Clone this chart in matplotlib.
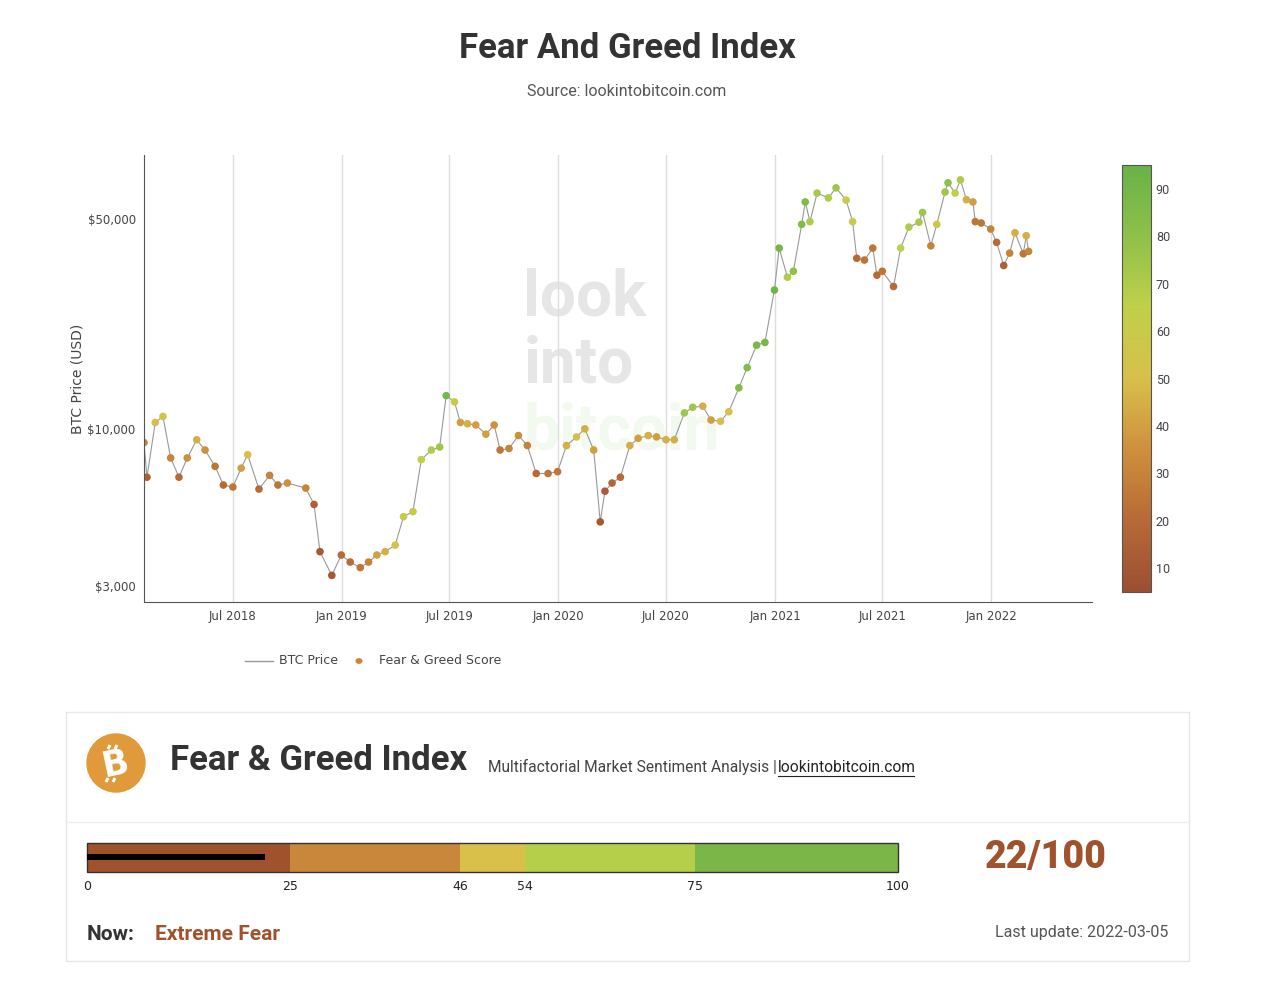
import numpy as np
import pandas as pd
import matplotlib
matplotlib.use("Agg")
import matplotlib.pyplot as plt
from matplotlib.colors import LinearSegmentedColormap
from matplotlib.patches import Circle, Rectangle

matplotlib.rcParams['font.family'] = 'Roboto'

dates = [
    "2018-02-01", "2018-02-06", "2018-02-20", "2018-03-05", "2018-03-18", "2018-04-01", "2018-04-15",
    "2018-05-01", "2018-05-15", "2018-06-01", "2018-06-15", "2018-07-01", "2018-07-15", "2018-07-26",
    "2018-08-14", "2018-09-01", "2018-09-15", "2018-10-01", "2018-11-01", "2018-11-15", "2018-11-25",
    "2018-12-15", "2018-12-31",
    "2019-01-15", "2019-02-01", "2019-02-15", "2019-03-01", "2019-03-15", "2019-04-01", "2019-04-15",
    "2019-05-01", "2019-05-15", "2019-06-01", "2019-06-15", "2019-06-26", "2019-07-10", "2019-07-20",
    "2019-08-01", "2019-08-15", "2019-09-01", "2019-09-15", "2019-09-25", "2019-10-10", "2019-10-26",
    "2019-11-10", "2019-11-25", "2019-12-15", "2019-12-31",
    "2020-01-15", "2020-02-01", "2020-02-15", "2020-03-01", "2020-03-12", "2020-03-20", "2020-04-01",
    "2020-04-15", "2020-05-01", "2020-05-15", "2020-06-01", "2020-06-15", "2020-07-01", "2020-07-15",
    "2020-08-01", "2020-08-15", "2020-09-01", "2020-09-15", "2020-10-01", "2020-10-15", "2020-11-01",
    "2020-11-15", "2020-12-01", "2020-12-15", "2020-12-31",
    "2021-01-08", "2021-01-22", "2021-02-01", "2021-02-15", "2021-02-21", "2021-03-01", "2021-03-13",
    "2021-04-01", "2021-04-14", "2021-05-01", "2021-05-12", "2021-05-19", "2021-06-01", "2021-06-15",
    "2021-06-22", "2021-07-01", "2021-07-20", "2021-08-01", "2021-08-15", "2021-09-01", "2021-09-07",
    "2021-09-21", "2021-10-01", "2021-10-15", "2021-10-20", "2021-11-01", "2021-11-10", "2021-11-20",
    "2021-12-01", "2021-12-05", "2021-12-15", "2021-12-31",
    "2022-01-10", "2022-01-22", "2022-02-01", "2022-02-10", "2022-02-24", "2022-03-01", "2022-03-05",
]
btc_price = [
    9000, 6900, 10500, 11000, 8000, 6900, 8000,
    9200, 8500, 7500, 6500, 6400, 7400, 8200,
    6300, 7000, 6500, 6600, 6350, 5600, 3900,
    3250, 3800,
    3600, 3450, 3600, 3800, 3900, 4100, 5100,
    5300, 7900, 8500, 8700, 12900, 12300, 10500,
    10400, 10300, 9600, 10300, 8500, 8600, 9500,
    8800, 7100, 7100, 7200,
    8800, 9400, 10000, 8500, 4900, 6200, 6600,
    6900, 8800, 9300, 9500, 9400, 9200, 9200,
    11300, 11800, 11900, 10700, 10600, 11400, 13700,
    16000, 19000, 19400, 29000,
    40000, 32000, 33500, 48000, 57000, 49000, 61000,
    58800, 63500, 57800, 49000, 37000, 36500, 40000,
    32500, 33500, 29800, 40000, 47000, 48800, 52600,
    40700, 48000, 61500, 66000, 61000, 67500, 58000,
    57000, 49000, 48500, 46300,
    41800, 35000, 38500, 45000, 38300, 44000, 39000,
]
fg_score = [
    30, 15, 50, 55, 30, 20, 35,
    45, 35, 25, 20, 25, 40, 50,
    20, 30, 25, 35, 30, 15, 10,
    10, 20,
    20, 25, 30, 40, 45, 55, 60,
    60, 65, 70, 75, 90, 60, 40,
    45, 40, 40, 35, 25, 30, 35,
    30, 20, 25, 25,
    45, 50, 45, 40, 10, 12, 18,
    20, 45, 40, 45, 40, 45, 45,
    75, 75, 45, 40, 50, 50, 85,
    85, 88, 90, 92,
    90, 70, 80, 85, 85, 70, 72,
    70, 75, 60, 60, 20, 25, 25,
    20, 25, 20, 65, 70, 72, 75,
    30, 55, 75, 80, 65, 70, 45,
    40, 25, 25, 30,
    20, 15, 30, 45, 25, 45, 30,
]

x_ticks = ["2018-07-01", "2019-01-01", "2019-07-01", "2020-01-01", "2020-07-01",
           "2021-01-01", "2021-07-01", "2022-01-01"]
x_tick_labels = ["Jul 2018", "Jan 2019", "Jul 2019", "Jan 2020", "Jul 2020",
                 "Jan 2021", "Jul 2021", "Jan 2022"]
y_ticks = [3000, 10000, 50000]
y_tick_labels = ["$3,000", "$10,000", "$50,000"]

gauge_edges = [0, 25, 46, 54, 75, 100]
gauge_colors = ["#a0522d", "#c9873b", "#d9c04a", "#b5cf4a", "#7ab648"]
current_score = 22
current_label = "Extreme Fear"
last_update = "2022-03-05"

cmap = LinearSegmentedColormap.from_list("fg", [
    (0.0, "#9b4f32"), (0.17, "#b86a36"), (0.33, "#cd8f3d"), (0.5, "#d8bf4b"),
    (0.67, "#bfd04a"), (0.83, "#8fc14a"), (1.0, "#68b247")])

W, H = 1280, 1008
fig = plt.figure(figsize=(12.8, 10.08), dpi=100)
fig.patch.set_facecolor("white")

def fx(px):
    return px / W

def fy(py):
    return 1 - py / H

fig.text(fx(627), fy(48), "Fear And Greed Index", ha="center", va="center",
         fontsize=25, fontweight="bold", color="#333333")
fig.text(fx(627), fy(92), "Source: lookintobitcoin.com", ha="center", va="center",
         fontsize=11.5, color="#555555")

ax = fig.add_axes([fx(144), fy(602), fx(1092) - fx(144), (602 - 155) / H])
d = pd.to_datetime(dates)
ax.plot(d, btc_price, color="#999999", lw=0.8, zorder=1)
sc = ax.scatter(d, btc_price, c=fg_score, cmap=cmap, vmin=5, vmax=95, s=30,
                edgecolors="none", zorder=2)
ax.set_yscale("log")
ax.set_ylim(2650, 81700)
ax.set_xlim(pd.Timestamp("2018-02-01"), pd.Timestamp("2022-06-20"))
ax.set_yticks(y_ticks)
ax.set_yticklabels(y_tick_labels)
ax.yaxis.set_minor_locator(matplotlib.ticker.NullLocator())
ax.set_xticks(pd.to_datetime(x_ticks))
ax.set_xticklabels(x_tick_labels)
ax.tick_params(length=0, colors="#444444", pad=6)
for lab in ax.get_xticklabels() + ax.get_yticklabels():
    lab.set_fontfamily("DejaVu Sans")
    lab.set_fontsize(8.5)
ax.grid(axis="x", color="#dddddd", lw=1)
ax.set_axisbelow(True)
for s in ["top", "right"]:
    ax.spines[s].set_visible(False)
for s in ["left", "bottom"]:
    ax.spines[s].set_color("#555555")
ax.set_ylabel("BTC Price (USD)", fontsize=10, color="#444444", fontfamily="DejaVu Sans",
              labelpad=2)

# watermark
ax.text(0.40, 0.68, "look", transform=ax.transAxes, fontsize=46, fontweight="bold",
        color="#e6e6e6", zorder=0, va="center")
ax.text(0.40, 0.53, "into", transform=ax.transAxes, fontsize=46, fontweight="bold",
        color="#e6e6e6", zorder=0, va="center")
ax.text(0.40, 0.38, "bitcoin", transform=ax.transAxes, fontsize=46, fontweight="bold",
        color="#f2f9ee", zorder=0, va="center")

cax = fig.add_axes([fx(1122), fy(592), fx(1151) - fx(1122), (592 - 165) / H])
cb = fig.colorbar(sc, cax=cax, ticks=[10, 20, 30, 40, 50, 60, 70, 80, 90])
cb.outline.set_edgecolor("#555555")
cax.tick_params(length=0, labelsize=9, colors="#444444")

# legend
fig.add_artist(plt.Line2D([fx(245), fx(273)], [fy(661), fy(661)], color="#999999", lw=1))
fig.text(fx(279), fy(661), "BTC Price", va="center", fontsize=9, color="#444444",
         fontfamily="DejaVu Sans")
fig.add_artist(Circle((fx(359), fy(661)), 0.0022, transform=fig.transFigure,
                      color="#c9873b"))
fig.text(fx(379), fy(661), "Fear & Greed Score", va="center", fontsize=9, color="#444444",
         fontfamily="DejaVu Sans")

# bottom panel, pixel coordinates
pa = fig.add_axes([0, 0, 1, 1], facecolor="none")
pa.set_xlim(0, W)
pa.set_ylim(H, 0)
pa.axis("off")
pa.add_patch(Rectangle((66, 712), 1123, 249, fill=False, ec="#e8e8e8", lw=1))
pa.plot([66, 1189], [822, 822], color="#eeeeee", lw=1)
pa.add_patch(Circle((116, 763), 29, color="#e09a3a"))
pa.text(116, 764, "B", ha="center", va="center", fontsize=25, fontweight="bold",
        color="white", fontfamily="DejaVu Sans", rotation=12)
for dx in (-3, 4):
    pa.plot([113 + dx, 111 + dx], [745, 749], color="white", lw=2.2, solid_capstyle="butt")
    pa.plot([121 + dx - 10, 119 + dx - 10], [778, 782], color="white", lw=2.2,
            solid_capstyle="butt")
pa.text(170, 761, "Fear & Greed Index", va="center", fontsize=25, fontweight="bold",
        color="#333333")
pa.text(488, 767, "Multifactorial Market Sentiment Analysis | ", va="center",
        fontsize=11.2, color="#444444")
pa.text(778, 767, "lookintobitcoin.com", va="center", fontsize=11.2, color="#222222")
pa.plot([778, 914], [776, 776], color="#222222", lw=0.8)

gx0, gx1 = 87, 898
scale = (gx1 - gx0) / 100
for i, col in enumerate(gauge_colors):
    a, b = gauge_edges[i], gauge_edges[i + 1]
    pa.add_patch(Rectangle((gx0 + a * scale, 843), (b - a) * scale, 29, color=col, lw=0))
pa.add_patch(Rectangle((gx0, 843), gx1 - gx0, 29, fill=False, ec="#333333", lw=1))
pa.add_patch(Rectangle((gx0, 854), current_score * scale, 6, color="black", lw=0))
for e in gauge_edges:
    pa.text(gx0 + e * scale, 887, str(e), ha="center", va="center", fontsize=9,
            color="#222222", fontfamily="DejaVu Sans")
pa.text(1046, 858, f"{current_score}/100", ha="center", va="center", fontsize=27,
        fontweight="black", color="#a0522d")
pa.text(87, 935, "Now:", va="center", fontsize=15, fontweight="bold", color="#333333")
pa.text(155, 935, current_label, va="center", fontsize=15, fontweight="bold", color="#a0522d")
pa.text(1168, 933, f"Last update: {last_update}", ha="right", va="center",
        fontsize=11.5, color="#555555")

fig.savefig("out.png", dpi=100)
